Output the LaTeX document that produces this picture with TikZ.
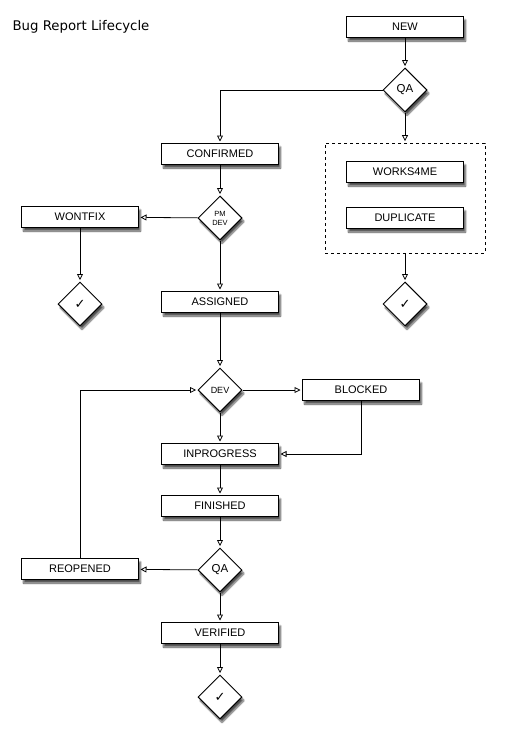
\documentclass[tikz,border=0pt]{standalone}
\usepackage{fontspec}
\newfontfamily\boxfont{Liberation Sans}
\newfontfamily\titlefont{DejaVu Sans}
\usetikzlibrary{shapes,arrows.meta,shadows.blur}

\begin{document}
\begin{tikzpicture}[x=1pt,y=-1pt,
		state/.style={draw, line width=1pt, fill=white, minimum width=117pt, minimum height=21pt, inner sep=0pt,
			font=\boxfont\fontsize{11}{12}\selectfont, blur shadow={shadow xshift=2pt, shadow yshift=-3.5pt, shadow blur steps=8, shadow opacity=70}},
		choice/.style={draw, line width=1pt, fill=white, diamond, minimum width=44pt, minimum height=44pt, inner sep=0pt,
			font=\boxfont\fontsize{9}{9}\selectfont, align=center, blur shadow={shadow xshift=2pt, shadow yshift=-3.5pt, shadow blur steps=8, shadow opacity=70}},
		done/.style={choice, font=\titlefont\fontsize{13}{13}\selectfont},
		flow/.style={line width=0.8pt, -{Triangle[open, length=6pt, width=6pt]}, shorten >=1.5pt},
		link/.style={line width=0.8pt}]
			\useasboundingbox (0,0) rectangle (505,744);
			\node[anchor=base west, font=\titlefont\fontsize{13.3}{15}\selectfont] (title) at (9,30.5) {Bug Report Lifecycle};
			\node[draw, dashed, line width=0.8pt, minimum width=160pt, minimum height=110pt] (group) at (405,198) {};
			\node[state] (new) at (405,27) {NEW};
			\node[choice, font=\boxfont\fontsize{11.5}{11}\selectfont] (qa) at (405,90) {QA};
			\node[state] (confirmed) at (220,154) {CONFIRMED};
			\node[choice, font=\boxfont\fontsize{7.5}{9}\selectfont] (pmdev) at (220,218) {PM\\DEV};
			\node[state] (wontfix) at (80,217) {WONTFIX};
			\node[done] (ok1) at (80,304) {✓};
			\node[state] (works) at (405,172) {WORKS4ME};
			\node[state] (duplicate) at (405,218) {DUPLICATE};
			\node[done] (ok2) at (405,304) {✓};
			\node[state] (assigned) at (220,302) {ASSIGNED};
			\node[choice] (dev) at (220,390) {DEV};
			\node[state] (blocked) at (361,390) {BLOCKED};
			\node[state] (inprogress) at (220,454) {INPROGRESS};
			\node[state] (finished) at (220,506) {FINISHED};
			\node[choice, font=\boxfont\fontsize{11.5}{11}\selectfont] (qa2) at (220,570) {QA};
			\node[state] (reopened) at (80,569) {REOPENED};
			\node[state] (verified) at (220,633) {VERIFIED};
			\node[done] (ok3) at (220,697) {✓};
			\draw[flow] (new) -- (qa);
			\draw[flow] (qa.west) -| (confirmed.north);
			\draw[flow] (qa) -- (group);
			\draw[flow] (confirmed) -- (pmdev);
			\draw[flow] (pmdev) -- (wontfix);
			\draw[flow] (wontfix) -- (ok1);
			\draw[flow] (pmdev) -- (assigned);
			\draw[flow] (group) -- (ok2);
			\draw[flow] (assigned) -- (dev);
			\draw[flow] (dev) -- (blocked);
			\draw[flow] (dev) -- (inprogress);
			\draw[flow] (blocked.south) |- (inprogress.east);
			\draw[flow] (inprogress) -- (finished);
			\draw[flow] (finished) -- (qa2);
			\draw[flow] (qa2) -- (reopened);
			\draw[flow] (reopened.north) |- (dev.west);
			\draw[flow] (qa2) -- (verified);
			\draw[flow] (verified) -- (ok3);
		\end{tikzpicture}
\end{document}
